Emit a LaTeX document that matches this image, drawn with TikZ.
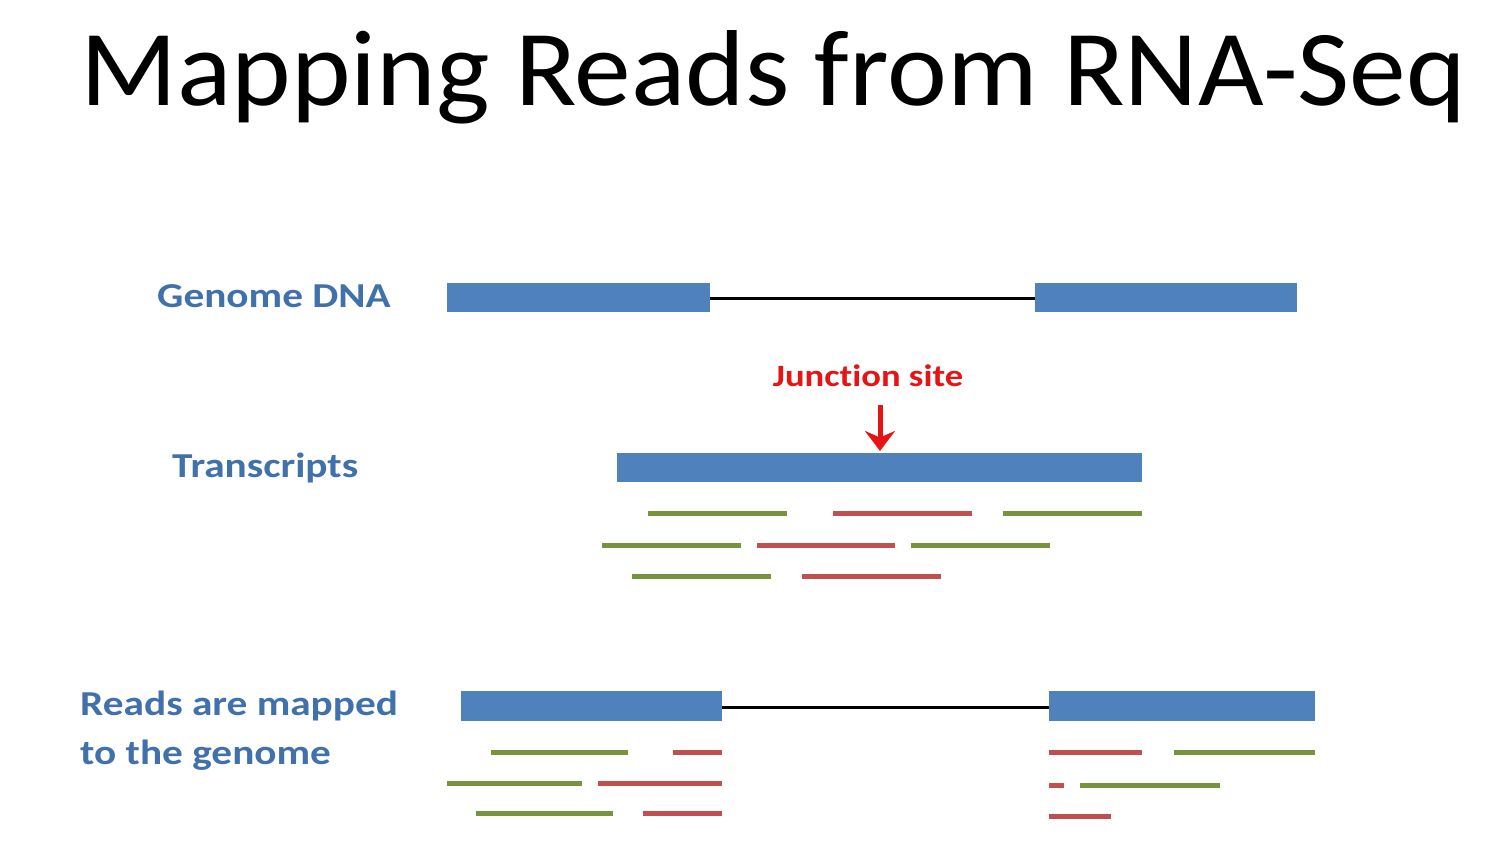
\documentclass[tikz,border=0pt]{standalone}
\usepackage{fontspec}
\setmainfont{Carlito}[Ligatures={NoCommon,NoRequired,NoContextual}]
\usetikzlibrary{arrows.meta}
\definecolor{bbar}{RGB}{79,129,189}
\definecolor{lbl}{RGB}{65,113,170}
\definecolor{rg}{RGB}{119,147,60}
\definecolor{rr}{RGB}{192,80,77}
\definecolor{jr}{RGB}{230,20,20}
\begin{document}
\begin{tikzpicture}[x=1pt,y=-1pt,
  bar/.style={fill=bbar},
  intr/.style={line width=3pt,black},
  g/.style={line width=5pt,rg},
  r/.style={line width=5pt,rr},
  lab/.style={font=\fontsize{35}{38}\selectfont\bfseries,text=lbl,anchor=base west,inner sep=0,xscale=1.18}]
\useasboundingbox (0,0) rectangle (1496,865);
\node[anchor=base west,inner sep=0,font=\fontsize{108}{110}\selectfont,xscale=1.05] (title) at (80,105) {Mapping Reads from RNA-Seq};
% genome
\node[lab] (gl) at (157,307) {Genome DNA};
\fill[bar] (447,283) rectangle (710,312);
\fill[bar] (1035,283) rectangle (1297,312);
\draw[intr] (710,298) -- (1035,298);
% junction
\node[font=\fontsize{31}{34}\selectfont\bfseries,text=jr,anchor=base,inner sep=0,xscale=1.18] (js) at (868,386) {Junction site};
\coordinate (a1) at (880,405); \coordinate (a2) at (880,451);
\draw[jr,line width=5pt,-{Stealth[length=20pt,width=30pt]}] (a1) -- (a2);
% transcripts
\node[lab] (tl) at (172,477) {Transcripts};
\fill[bar] (617,453) rectangle (1142,482);
\draw[g] (648,513)--(787,513); \draw[r] (833,513)--(972,513); \draw[g] (1003,513)--(1142,513);
\draw[g] (602,545)--(741,545); \draw[r] (757,545)--(895,545); \draw[g] (911,545)--(1050,545);
\draw[g] (632,576)--(771,576); \draw[r] (802,576)--(941,576);
% mapped
\node[lab] (m1) at (80,715) {Reads are mapped};
\node[lab] (m2) at (80,764) {to the genome};
\fill[bar] (461,691) rectangle (722,721);
\fill[bar] (1049,691) rectangle (1315,721);
\draw[intr] (722,707) -- (1049,707);
\draw[g] (491,752)--(628,752); \draw[r] (673,752)--(722,752);
\draw[r] (1049,752)--(1142,752); \draw[g] (1174,752)--(1315,752);
\draw[g] (447,783)--(582,783); \draw[r] (598,783)--(722,783);
\draw[r] (1049,785)--(1064,785); \draw[g] (1080,785)--(1220,785);
\draw[g] (476,813)--(613,813); \draw[r] (643,813)--(722,813);
\draw[r] (1049,816)--(1111,816);
\end{tikzpicture}
\end{document}
